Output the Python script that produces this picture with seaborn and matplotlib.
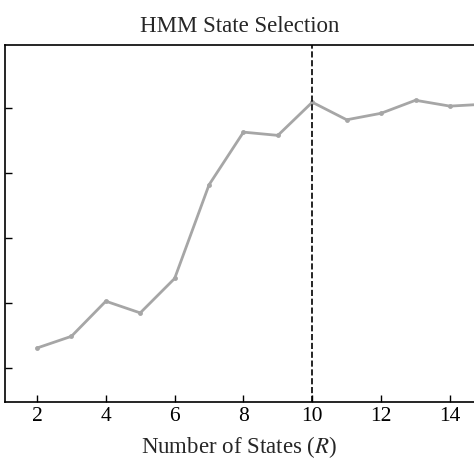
import numpy as np
import pandas as pd
import matplotlib
matplotlib.use('Agg')
import matplotlib.pyplot as plt
import seaborn as sns

# number of states vs selection score (y labels are cropped off in the reference)
states = [2, 3, 4, 5, 6, 7, 8, 9, 10, 11, 12, 13, 14, 15]
score = [0.31, 0.49, 1.03, 0.85, 1.38, 2.82, 3.63, 3.58, 4.09, 3.82, 3.92, 4.12, 4.03, 4.06]
best_r = 10

df = pd.DataFrame({'R': states, 'score': score})

sns.set_style('ticks')
plt.rcParams['font.family'] = ['Liberation Serif', 'DejaVu Serif']
plt.rcParams['mathtext.fontset'] = 'stix'

fig = plt.figure(figsize=(4.74, 4.74), dpi=100)
ax = fig.add_axes([5/474, 72/474, 469/474, 357/474])

sns.lineplot(x='R', y='score', data=df, color='#a6a6a6', linewidth=2,
             marker='o', markersize=3.5, markeredgewidth=0, ax=ax)
ax.axvline(best_r, color='black', linestyle='--', linewidth=1.2)

ax.set_xlim(1.07, 14.70)
ax.set_ylim(-0.52, 4.97)
ax.set_xticks([2, 4, 6, 8, 10, 12, 14])
ax.set_yticks([0, 1, 2, 3, 4])
ax.set_yticklabels([])
ax.tick_params(direction='in', labelsize=15.5, length=5, width=1, colors='black')
ax.spines['right'].set_visible(False)
for s in ['left', 'top', 'bottom']:
    ax.spines[s].set_linewidth(1.2)
    ax.spines[s].set_color('black')

ax.set_title('HMM State Selection', fontsize=16.5, pad=9)
ax.set_xlabel('Number of States ($R$)', fontsize=16.5, labelpad=6)
ax.set_ylabel('')

fig.savefig('out.png', dpi=100)
